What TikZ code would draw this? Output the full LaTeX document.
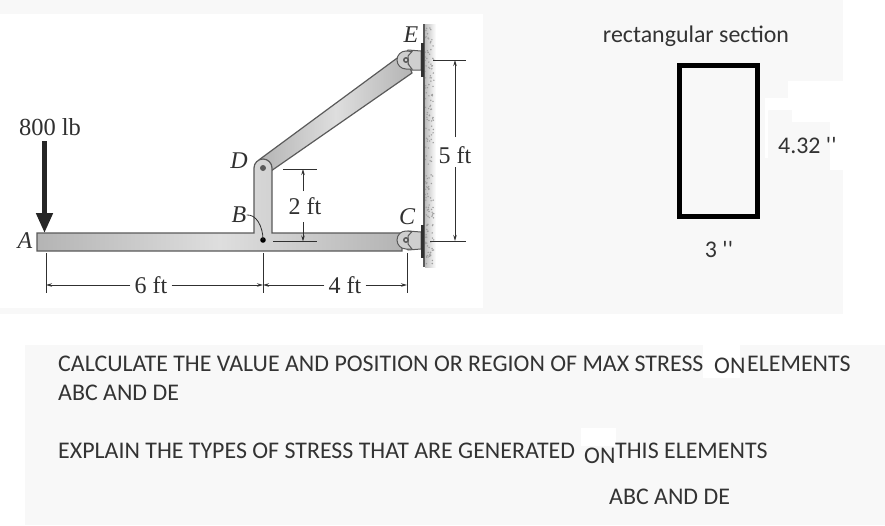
\documentclass[tikz,border=0pt]{standalone}
\usepackage{fontspec}
\setmainfont{Liberation Serif}
\newfontfamily\carlitofont{Carlito}
\usetikzlibrary{arrows.meta,calc}
\definecolor{panel}{HTML}{F8F8F8}
\definecolor{ink}{HTML}{303030}
\definecolor{edge}{HTML}{5A5A5A}
\definecolor{steelD}{HTML}{B4B4B4}
\definecolor{steelL}{HTML}{DEDEDE}
\definecolor{forkfill}{HTML}{CFCFCF}
\tikzset{
  x=1pt,y=-1pt,
  lab/.style={font=\fontsize{24.5}{25}\selectfont,text=ink,inner sep=0pt},
  pt/.style={font=\fontsize{24}{24}\itshape\selectfont,text=ink,inner sep=0pt},
  sf/.style={font=\carlitofont\fontsize{23.9}{24}\selectfont,text=black!80,inner sep=0pt,anchor=base west},
  ssf/.style={font=\carlitofont\fontsize{23.9}{24}\selectfont,text=black!80,inner sep=0pt},
  dimtxt/.style={font=\fontsize{24}{24}\selectfont,text=ink,inner sep=0pt},
  dimline/.style={draw=ink,line width=0.9pt},
  dimarrow/.style={dimline,-{Stealth[length=6pt,width=3.5pt]}},
  member/.style={draw=edge,line width=1.2pt,left color=steelD,right color=steelD,middle color=steelL},
  pinC/.style={draw=edge,line width=1pt,fill=forkfill},
  patch/.style={fill=white,draw=none}
}
\begin{document}
\begin{tikzpicture}
\useasboundingbox (0,0) rectangle (885,525);
\clip (0,0) rectangle (885,525);
% backgrounds
\fill[panel] (0,0) rectangle (843,314);
\fill[white] (0,14) rectangle (483,308);
\fill[panel] (25,345) rectangle (885,525);
\fill[white] (788,81) -- (843,81) -- (843,170) -- (830,170) -- (830,122) -- (792,122) -- (792,110) -- (768,110) -- (768,158) -- (765,158) -- (765,98) -- (788,98) -- cycle;
\fill[patch] (703,345) rectangle (740,378);
\fill[patch] (581,428) rectangle (616,446);
% wall
\shade[left color=black!25,right color=white] (425,24) rectangle (436,267);
\pgfmathsetseed{7}
\foreach \i in {1,...,170}{
  \pgfmathsetmacro{\wx}{425+rnd*9}
  \pgfmathsetmacro{\wy}{26+rnd*238}
  \fill[black!38] (\wx,\wy) circle (0.8);
}
% members
\coordinate (Dpin) at (263,168);
\coordinate (Epin) at (406,60);
\coordinate (Cpin) at (406,240);
\coordinate (Bpin) at (263,240);
% clevises behind the members
\draw[pinC] (421,51) -- (408,50) -- (398,60) -- (408,70) -- (421,70) -- cycle;
\draw[pinC] (421,232) -- (408,231) -- (398,240) -- (408,250) -- (421,249) -- cycle;
\draw[member,shading angle=90] (259.5,159.5) -- (404,53) -- (412,73) -- (271,171) -- cycle;
\draw[member] (37,233) -- (254,233) -- (254,168) arc[start angle=180,end angle=360,radius=9] -- (272,233) -- (402,233) -- (402,251) -- (37,251) -- cycle;
% fork lobes around the pins
\draw[pinC] (412,51.5) -- (406,51) arc[start angle=-90,end angle=-270,radius=9] -- (412,69) -- (408,64) -- (408,56) -- cycle;
\draw[pinC] (412,231.5) -- (406,231) arc[start angle=-90,end angle=-270,radius=9] -- (412,249) -- (408,244) -- (408,236) -- cycle;
\fill[edge] (Epin) circle (3);
\fill[steelL] (Epin) circle (1.3);
\fill[edge] (Cpin) circle (3);
\fill[steelL] (Cpin) circle (1.3);
\fill[edge] (Dpin) circle (3);
\fill[black] (Bpin) circle (2.8);
% plates and wall line
\draw[ink!80,line width=1.2pt] (424,24) -- (424,267);
\fill[ink] (421,43) rectangle (424,77);
\fill[ink] (421,225) rectangle (424,258);
% load
\node[lab] (load) at (50,127) {800 lb};
\coordinate (loadS) at (44.5,141);
\coordinate (loadE) at (44.5,233);
\draw[line width=4.6pt,draw=black!85,-{Triangle[length=20pt,width=16pt]}] (loadS) -- (loadE);
% point labels
\node[pt] (A) at (25,241) {A};
\node[pt] (D) at (239,161) {D};
\node[pt] (B) at (239,215) {B};
\node[pt] (C) at (407,217) {C};
\node[pt] (E) at (411,35) {E};
\draw[ink,line width=0.8pt] (B.east) .. controls (256,214) and (263,226) .. (Bpin);
% 6 ft / 4 ft
\coordinate (exA) at (46,253); \coordinate (exAb) at (46,293);
\coordinate (exB) at (263,253); \coordinate (exBb) at (263,293);
\coordinate (exC) at (407,253); \coordinate (exCb) at (407,293);
\draw[dimline] (exA) -- (exAb);
\draw[dimline] (exB) -- (exBb);
\draw[dimline] (exC) -- (exCb);
\node[dimtxt] (six) at (151,285) {6 ft};
\node[dimtxt] (four) at (345,285) {4 ft};
\draw[dimarrow] (six.west) ++(-4,0) -- (46,285);
\draw[dimarrow] (six.east) ++(4,0) -- (263,285);
\draw[dimarrow] (four.west) ++(-4,0) -- (263,285);
\draw[dimarrow] (four.east) ++(4,0) -- (407,285);
% 5 ft
\draw[dimline] (433,60) -- (466,60);
\draw[dimline] (430,241) -- (466,241);
\node[dimtxt] (five) at (455,155) {5 ft};
\draw[dimarrow] (455,137) -- (455,60);
\draw[dimarrow] (455,167) -- (455,241);
% 2 ft
\draw[dimline] (283,169) -- (317,169);
\draw[dimline] (273,241.5) -- (317,241.5);
\node[dimtxt] (two) at (305,206) {2 ft};
\draw[dimarrow] (303,191) -- (303,169);
\draw[dimarrow] (303,222) -- (303,241.5);
% section
\node[ssf] (title) at (696,36) {rectangular section};
\node[draw=black,line width=5pt,fill=panel,minimum width=78pt,minimum height=151pt,inner sep=0pt] (sect) at (718.5,141) {};
\node[ssf,anchor=west] (h) at (778,146) {4.32 ''};
\node[ssf] (w) at (719,250) {3 ''};
% question text
\node[sf] (q1) at (58,371) {CALCULATE THE VALUE AND POSITION OR REGION OF MAX STRESS};
\node[sf] (on1) at (714,373) {ON};
\node[sf] (q1b) at (747,371) {ELEMENTS};
\node[sf] (q2) at (58,400) {ABC AND DE};
\node[sf] (q3) at (58,458) {EXPLAIN THE TYPES OF STRESS THAT ARE GENERATED};
\node[sf] (on2) at (584,463) {ON};
\node[sf] (q3b) at (615,458) {THIS ELEMENTS};
\node[sf] (q4) at (609,504) {ABC AND DE};
\end{tikzpicture}
\end{document}
